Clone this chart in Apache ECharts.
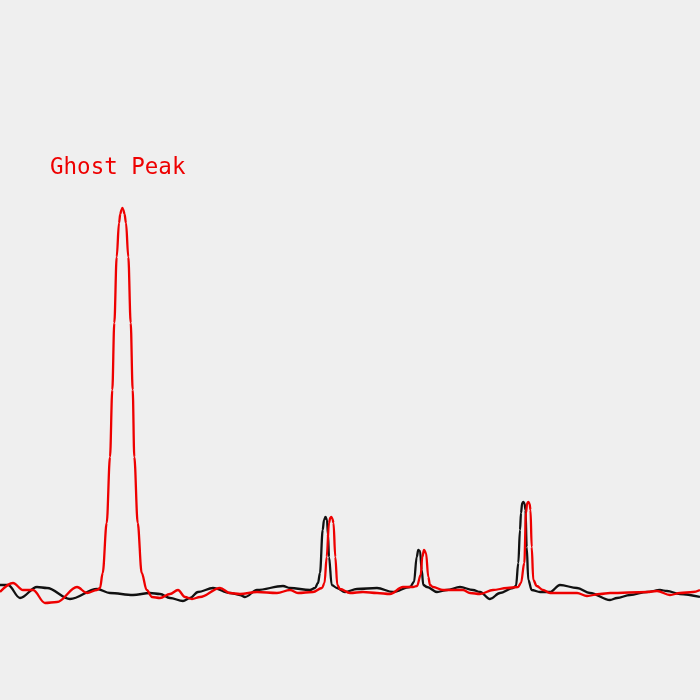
<!DOCTYPE html>
<html>
<head>
<meta charset="utf-8">
<script src="https://cdn.jsdelivr.net/npm/echarts@6/dist/echarts.min.js"></script>
<style>
html,body{margin:0;padding:0;background:#efefef;}
#chart{width:700px;height:700px;}
</style>
</head>
<body>
<div id="chart"></div>
<script>
// Positions along the trace (x) and signal level (value = 600 - screen row)
var blackX = [0,8,20,37,47,70,97,110,133,150,160,170,183,190,198,213,230,240,245,257,283,290,310,315,318,320,322.7,324,325.5,327,328,329,331.7,337,345,357,377,393,410,414,416.7,418.3,420,421.7,423.3,427,437,447,460,473,480,490,500,513,516,518.3,520,521,522.2,523.4,524.6,525.5,526.7,528.3,531.7,540,550,560,577,590,610,617,630,647,660,667,680,700];
var blackY = [15,15,2,13,12,1,11,7,5,7,6,2,-1,2,8,12,7,5,3,10,14,12,10,12,17,27,70,80,83,80,65,43,15,12,8,11,12,8,13,18,43,50,49,30,15,13,8,10,13,10,8,1,7,12,14,37,70,87,97,98,96,90,53,20,10,8,8,15,12,7,0,2,5,8,10,9,6,3];
var redX = [0,13,23,33,45,57,77,87,97,100,102.7,106.7,110,112.3,114.3,116.7,119,120.3,121.4,122.4,123.4,124.5,126,128.3,130.7,132.7,134.3,137.7,141.7,146.7,152,160,170,178,185,192,200,220,230,240,257,277,290,298,313,322,324.5,326.7,329,330.2,331.3,332.5,333.5,335.3,337.3,340,350,363,377,390,403,413,417,420.7,422.3,424,426,428.3,430,433,443,463,470,480,493,507,518,521,524.3,526,527.2,528.4,529.6,530.5,531.7,533.3,536.7,543,550,577,587,600,610,647,657,670,680,693,700];
var redY = [8,17,10,10,-3,-2,13,7,10,12,27,77,143,210,277,343,377,386,390,392,390,386,377,343,277,210,143,77,27,10,3,2,6,10,3,1,3,12,7,6,8,7,10,7,8,12,17,43,77,82,83,81,77,43,15,11,7,8,7,6,13,13,14,25,43,50,47,23,15,13,10,10,7,6,10,12,13,17,37,87,97,98,96,90,53,20,14,10,7,7,4,6,7,8,9,5,7,8,10];
var annotationText = 'Ghost Peak';

function pairs(xs, ys){ return xs.map(function(x,i){ return [x, ys[i]]; }); }

var chart = echarts.init(document.getElementById('chart'), null, {renderer:'canvas'});
chart.setOption({
  backgroundColor: '#efefef',
  animation: false,
  grid: {left:0, right:0, top:0, bottom:0},
  xAxis: {type:'value', min:0, max:700, show:false},
  yAxis: {type:'value', min:-100, max:600, show:false},
  series: [
    {type:'line', data: pairs(blackX, blackY), showSymbol:false, smooth:0.35, smoothMonotone:'x',
     lineStyle:{color:'#111111', width:2.3}},
    {type:'line', data: pairs(redX, redY), showSymbol:false, smooth:0.35, smoothMonotone:'x',
     lineStyle:{color:'#ee0000', width:2.3}}
  ],
  graphic: [{
    type:'text', left:50, top:157,
    style:{text: annotationText, fill:'#ee0000', font:'22.5px "DejaVu Sans Mono"'}
  }]
});
</script>
</body>
</html>
